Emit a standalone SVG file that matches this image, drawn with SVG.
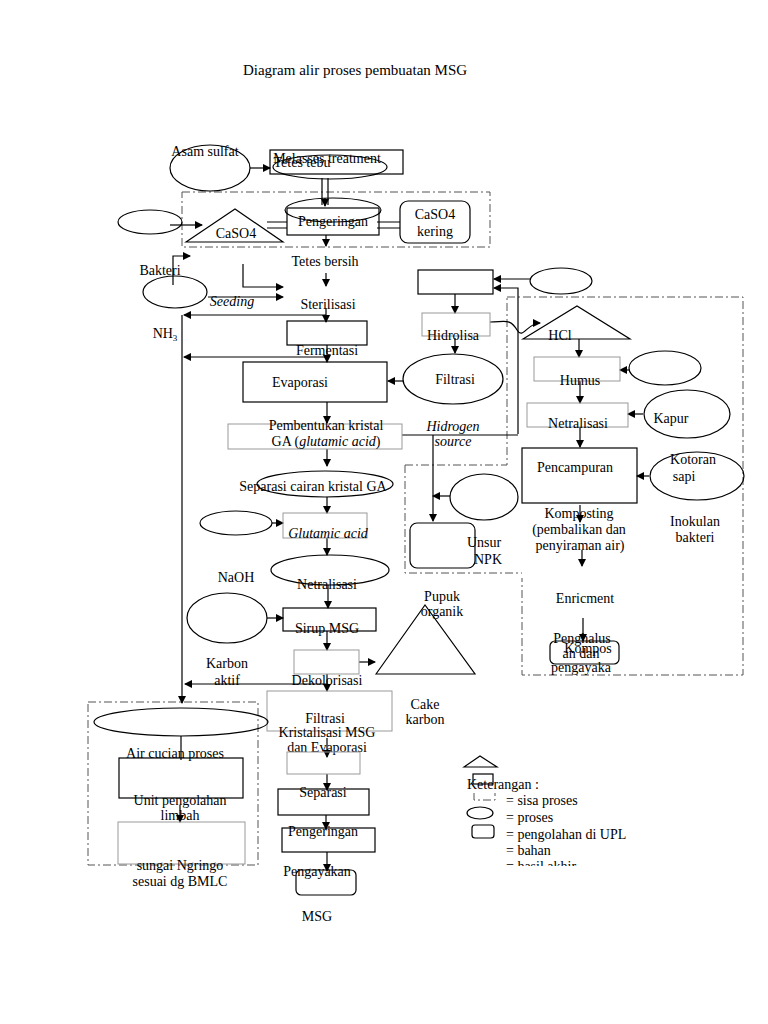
<svg xmlns="http://www.w3.org/2000/svg" width="768" height="1024" viewBox="0 0 768 1024">
<defs>
<marker id="ah" markerWidth="8" markerHeight="8" refX="7" refY="4" orient="auto" markerUnits="userSpaceOnUse"><path d="M0,0 L8,4 L0,8 z" fill="#000"/></marker>
<clipPath id="cl1"><rect x="0" y="0" width="768" height="866"/></clipPath>
</defs>
<style>
text{font-family:"Liberation Serif",serif;font-size:14px;fill:#000;text-anchor:middle}
.s{fill:none;stroke:#000;stroke-width:1.2}
.g{fill:none;stroke:#999;stroke-width:1}
.c{fill:none;stroke:#000;stroke-width:1.2;marker-end:url(#ah)}
.d{fill:none;stroke:#555;stroke-width:1;stroke-dasharray:8,3,2,3}
.i{font-style:italic}
</style>
<rect width="768" height="1024" fill="#fff"/>
<text x="355" y="75" style="font-size:15px">Diagram alir proses pembuatan MSG</text>

<g id="boundaries">
<rect class="d" x="182" y="192" width="308" height="55"/>
<path class="d" d="M507,297 H743 V675 H522 V578 M405,465 V573 H522 M405,465 H507 V297"/>
<rect class="d" x="88" y="702" width="170" height="163"/>
</g>

<g id="connectors">
<path class="c" d="M250,168 H270"/>
<path class="s" d="M322,178 V205 M328,178 V205"/>
<path class="c" d="M325,198 V206"/>
<path class="c" d="M170,225 H202"/>
<path class="s" d="M267,222 H287 M267,228 H287 M377,222 H400 M377,228 H400"/>
<path class="c" d="M326,235 V246"/>
<path class="c" d="M326,273 V286"/>
<path class="c" d="M173,285 V256 H190"/>
<path class="c" d="M243,264 V287 H283"/>
<path class="c" d="M208,297 H283"/>
<path class="c" d="M326,308 V322"/>
<path class="c" d="M326,315 H184"/>
<path class="c" d="M326,357 H184"/>
<path class="c" d="M182,315 V703"/>
<path class="c" d="M327,345 V362"/>
<path class="c" d="M327,402 V423"/>
<path class="s" d="M402,435 H518"/>
<path class="c" d="M327,449 V466"/>
<path class="c" d="M327,497 V513"/>
<path class="c" d="M272,523 H283"/>
<path class="c" d="M327,538 V555"/>
<path class="c" d="M328,585 V608"/>
<path class="c" d="M267,618 H283"/>
<path class="c" d="M327,631 V650"/>
<path class="c" d="M359,662 H375"/>
<path class="c" d="M327,684 H185"/>
<path class="c" d="M327,674 V691"/>
<path class="c" d="M327,738 V757"/>
<path class="c" d="M327,774 V790"/>
<path class="c" d="M326,815 V829"/>
<path class="c" d="M327,852 V871"/>
<path class="s" d="M181,736 V760"/>
<path class="c" d="M180,805 V822"/>
<path class="c" d="M530,279 H494"/>
<path class="c" d="M518,434 V288 H494"/>
<path class="c" d="M455,294 V313"/>
<path class="c" d="M490,322 C505,322 510,318 517,330 C523,340 527,323 540,323"/>
<path class="c" d="M455,338 V353"/>
<path class="c" d="M403,381 H388"/>
<path class="c" d="M433,435 V521"/>
<path class="c" d="M450,496 H433"/>
<path class="c" d="M579,339 V357"/>
<path class="c" d="M629,370 H620"/>
<path class="c" d="M580,381 V403"/>
<path class="c" d="M643,414 H628"/>
<path class="c" d="M580,427 V447"/>
<path class="c" d="M649,476 H637"/>
<path class="c" d="M580,505 V522"/>
<path class="c" d="M582,550 V566"/>
<path class="c" d="M583,618 V641"/>
</g>

<g id="n-asam"><ellipse class="s" cx="210" cy="168" rx="40" ry="23"/><text x="205" y="156">Asam sulfat</text></g>
<g id="n-melasses"><rect class="s" x="270" y="150" width="133" height="24"/><ellipse class="s" cx="330" cy="167" rx="57" ry="12"/><text x="327" y="163">Melasses treatment</text><text x="302" y="167">Tetes tebu</text></g>
<g id="n-e1"><ellipse class="s" cx="150" cy="222" rx="32" ry="12"/></g>
<g id="n-caso4"><polygon class="s" points="186,242 235,209 283,242"/><text x="236" y="238">CaSO4</text></g>
<g id="n-pengeringan1"><rect class="s" x="287" y="208" width="92" height="27"/><ellipse class="s" cx="333" cy="210" rx="48" ry="12"/><text x="333" y="226">Pengeringan</text></g>
<g id="n-caso4k"><rect class="s" x="400" y="201" width="70" height="42" rx="8"/><text x="435" y="219">CaSO4</text><text x="435" y="236">kering</text></g>
<g id="n-tetes"><text x="325" y="266">Tetes bersih</text></g>
<g id="n-bakteri"><ellipse class="s" cx="175" cy="292" rx="32" ry="16"/><text x="160" y="275">Bakteri</text></g>
<text class="i" x="232" y="306">Seeding</text>
<text x="328" y="309">Sterilisasi</text>
<text x="165" y="338">NH<tspan font-size="9" dy="3">3</tspan></text>
<g id="n-ferm"><rect class="s" x="287" y="321" width="80" height="24"/><text x="327" y="355">Fermentasi</text></g>
<g id="n-evap"><rect class="s" x="243" y="362" width="144" height="40"/><text x="300" y="387">Evaporasi</text></g>
<g id="n-pemb"><rect class="g" x="228" y="424" width="174" height="25"/><text x="326" y="430">Pembentukan kristal</text><text x="326" y="446">GA (<tspan class="i">glutamic acid</tspan>)</text></g>
<text class="i" x="453" y="431">Hidrogen</text><text class="i" x="453" y="446">source</text>
<g id="n-sep"><ellipse class="s" cx="325" cy="484" rx="68" ry="13"/><text x="313" y="491">Separasi cairan kristal GA</text></g>
<g id="n-e2"><ellipse class="s" cx="236" cy="523" rx="36" ry="12"/></g>
<g id="n-glu"><rect class="g" x="283" y="513" width="84" height="25"/><text class="i" x="328" y="538">Glutamic acid</text></g>
<g id="n-netr"><ellipse class="s" cx="330" cy="570" rx="59" ry="15"/><text x="327" y="589">Netralisasi</text></g>
<text x="236" y="582">NaOH</text>
<g id="n-e3"><ellipse class="s" cx="227" cy="618" rx="40" ry="25"/></g>
<g id="n-sirup"><rect class="s" x="283" y="608" width="93" height="23"/><text x="327" y="633">Sirup MSG</text></g>
<g id="n-dekol"><rect class="g" x="294" y="650" width="65" height="24"/><text x="327" y="685">Dekolorisasi</text></g>
<g id="n-pupuk"><polygon class="s" points="376,674 425,605 475,674"/><text x="442" y="601">Pupuk</text><text x="442" y="616">organik</text></g>
<text x="227" y="668">Karbon</text><text x="227" y="685">aktif</text>
<g id="n-filtrasi2"><rect class="g" x="267" y="691" width="125" height="40"/><text x="325" y="723">Filtrasi</text></g>
<text x="425" y="709">Cake</text><text x="425" y="724">karbon</text>
<text x="327" y="737">Kristalisasi MSG</text><text x="327" y="752">dan Evaporasi</text>
<g id="n-krist"><rect class="g" x="287" y="752" width="73" height="22"/></g>
<g id="n-sep2"><rect class="s" x="278" y="789" width="91" height="26"/><text x="323" y="797">Separasi</text></g>
<g id="n-peng2"><rect class="s" x="282" y="828" width="93" height="24"/><text x="323" y="836">Pengeringan</text></g>
<g id="n-msg"><rect class="s" x="296" y="870" width="60" height="25" rx="5"/><text x="317" y="876">Pengayakan</text><text x="317" y="921">MSG</text></g>
<g id="n-air"><ellipse class="s" cx="181" cy="722" rx="87" ry="14"/><text x="175" y="758">Air cucian proses</text></g>
<g id="n-upl"><rect class="s" x="119" y="758" width="124" height="40"/><text x="180" y="805">Unit pengolahan</text><text x="180" y="820">limbah</text></g>
<g id="n-sungai"><rect class="g" x="118" y="822" width="127" height="42"/><text x="180" y="870">sungai Ngringo</text><text x="180" y="886">sesuai dg BMLC</text></g>

<g id="n-r1"><rect class="s" x="418" y="270" width="75" height="24"/></g>
<g id="n-e4"><ellipse class="s" cx="561" cy="281" rx="31" ry="13"/></g>
<g id="n-hidro"><rect class="g" x="422" y="313" width="68" height="23"/><text x="453" y="340">Hidrolisa</text></g>
<g id="n-hcl"><polygon class="s" points="523,339 577,306 630,339"/><text x="560" y="340">HCl</text></g>
<g id="n-filtrasi1"><ellipse class="s" cx="453" cy="379" rx="50" ry="25"/><text x="455" y="384">Filtrasi</text></g>
<g id="n-humus"><rect class="g" x="534" y="357" width="86" height="24"/><text x="580" y="385">Humus</text></g>
<g id="n-e5"><ellipse class="s" cx="665" cy="368" rx="36" ry="17"/></g>
<g id="n-netr2"><rect class="g" x="527" y="403" width="101" height="24"/><text x="578" y="428">Netralisasi</text></g>
<g id="n-kapur"><ellipse class="s" cx="687" cy="414" rx="43" ry="24"/><text x="671" y="423">Kapur</text></g>
<g id="n-pencamp"><rect class="s" x="522" y="448" width="115" height="55"/><text x="575" y="472">Pencampuran</text></g>
<g id="n-kotoran"><ellipse class="s" cx="697" cy="476" rx="47" ry="24"/><text x="693" y="464">Kotoran</text><text x="684" y="481">sapi</text></g>
<text x="579" y="518">Komposting</text><text x="579" y="534">(pembalikan dan</text><text x="580" y="550">penyiraman air)</text>
<text x="695" y="526">Inokulan</text><text x="695" y="542">bakteri</text>
<text x="585" y="603">Enricment</text>
<g id="n-kompos"><rect class="s" x="550" y="641" width="69" height="23" rx="5"/><text x="582" y="643">Penghalus</text><text x="588" y="653">Kompos</text><text x="581" y="658">an dan</text><text x="581" y="672">pengayaka</text></g>
<g id="n-e6"><ellipse class="s" cx="484" cy="497" rx="34" ry="23"/></g>
<g id="n-npk"><rect class="s" x="410" y="523" width="65" height="45" rx="7"/><text x="484" y="547">Unsur</text><text x="488" y="564">NPK</text></g>

<g id="legend" clip-path="url(#cl1)">
<polygon class="s" points="464,767 480,756 497,767"/>
<rect class="s" x="473" y="774" width="20" height="10"/>
<path class="d" d="M474,793 V800 H495 V793"/>
<ellipse class="s" cx="480" cy="813" rx="13" ry="6"/>
<rect class="s" x="472" y="825" width="22" height="13" rx="3"/>
<text x="467" y="789" style="text-anchor:start">Keterangan :</text>
<text x="506" y="805" style="text-anchor:start">= sisa proses</text>
<text x="506" y="822" style="text-anchor:start">= proses</text>
<text x="506" y="839" style="text-anchor:start">= pengolahan di UPL</text>
<text x="506" y="855" style="text-anchor:start">= bahan</text>
<text x="506" y="871" style="text-anchor:start">= hasil akhir</text>
</g>
</svg>
